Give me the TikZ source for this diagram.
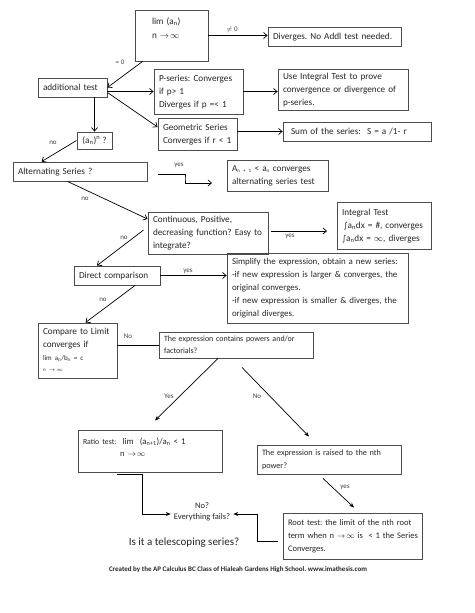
\documentclass[tikz,border=0pt]{standalone}
\usepackage{fontspec}
\setmainfont{Carlito}
\newfontfamily\djv{DejaVu Sans}
\usetikzlibrary{arrows.meta,calc}
\AtBeginDocument{\frenchspacing}
\newcommand\boxlines[1]{\begin{tabular}{@{}l@{}}#1\end{tabular}}
\newcommand\intsign{{\djv\fontsize{8}{13}\selectfont ∫}}
\begin{document}
\begin{tikzpicture}[x=1pt,y=-1pt,
  box/.style={draw=black!70, line width=0.9pt, rectangle, inner xsep=5pt, inner ysep=1pt,
    align=left, font=\fontsize{9.2}{13}\selectfont, text=black!85},
  lbl/.style={font=\fontsize{7}{8}\selectfont, text=black!75, inner sep=0pt},
  arr/.style={line width=0.7pt, -{Straight Barb[length=3.5pt,width=6pt]}},
  arf/.style={line width=0.7pt, -{Stealth[length=5pt,width=4pt]}},
  plain/.style={line width=0.7pt}
]
\useasboundingbox (0,0) rectangle (474,613);
\fill[white] (0,0) rectangle (474,613);

% boxes
\node[box, inner xsep=17pt, minimum width=73, minimum height=51, text width=39] (lim) at (171.5,35.5)
  {\boxlines{lim (a\textsubscript{n})\\[1pt] n $\rightarrow\!\infty$\\ \mbox{}}};
\node[box, minimum width=133, minimum height=19, text width=123] (div) at (334.5,36.5)
  {\boxlines{Diverges. No Addl test needed.}};
\node[box, minimum width=69, minimum height=19, text width=59] (addl) at (72.5,87.5)
  {\boxlines{additional test}};
\node[box, minimum width=89, minimum height=45, text width=79] (pser) at (198.5,91.5)
  {\boxlines{P-series: Converges\\ if p> 1\\ Diverges if p =< 1}};
\node[box, minimum width=130, minimum height=41, text width=120] (useint) at (343,89.5)
  {\boxlines{Use Integral Test to prove\\ convergence or divergence of\\ p-series.}};
\node[box, minimum width=79, minimum height=32, text width=69] (geo) at (197.5,134)
  {\boxlines{Geometric Series\\ Converges if r < 1}};
\node[box, minimum width=148, minimum height=19, text width=138] (sum) at (357,131.5)
  {\boxlines{\hspace*{3pt}Sum of the series:\ \ S = a /1- r}};
\node[box, minimum width=35, minimum height=17, align=center, inner xsep=2pt] (an) at (94.5,140.5)
  {(a\textsubscript{n})\textsuperscript{n} ?};
\node[box, minimum width=134, minimum height=19, text width=124] (alt) at (80,171.5)
  {\boxlines{Alternating Series ?}};
\node[box, minimum width=101, minimum height=31, text width=91] (abox) at (277.5,175.5)
  {\boxlines{A{\fontsize{6}{6}\selectfont\textsubscript{n + 1}} < a{\fontsize{6}{6}\selectfont\textsubscript{n}} converges\\ alternating series test}};
\node[box, minimum width=120, minimum height=42, text width=110] (cont) at (208,233)
  {\boxlines{Continuous, Positive,\\ decreasing function? Easy to\\ integrate?}};
\node[box, minimum width=94, minimum height=47, text width=84] (integ) at (384,225.5)
  {\boxlines{Integral Test\\ \,\intsign a\textsubscript{n}dx = \#, converges\\ \intsign a\textsubscript{n}dx = $\infty$, diverges}};
\node[box, minimum width=86, minimum height=19, text width=76] (direct) at (117,275.5)
  {\boxlines{Direct comparison}};
\node[box, font=\fontsize{8.9}{13}\selectfont, minimum width=181, minimum height=70, text width=171] (simp) at (317.5,288)
  {\boxlines{Simplify the expression, obtain a new series:\\ -if new expression is larger \& converges, the\\ original converges.\\ -if new expression is smaller \& diverges, the\\ original diverges.}};
\node[box, minimum width=79, minimum height=55, text width=69] (comp) at (77.5,350.5)
  {\boxlines{Compare to Limit\\ converges if\\ {\fontsize{7}{9}\selectfont lim a\textsubscript{n}/b\textsubscript{n} = c}\\[-2pt] {\fontsize{5}{7}\selectfont n $\rightarrow\!\infty$}}};
\node[box, font=\fontsize{8}{11.5}\selectfont, minimum width=154, minimum height=26, text width=144] (expr) at (236,345)
  {\boxlines{The expression contains powers and/or\\ factorials?}};
\node[box, minimum width=144, minimum height=42, text width=134] (ratio) at (150,451)
  {\boxlines{{\fontsize{7.8}{13}\selectfont Ratio test:}\ \ {\fontsize{8.8}{13}\selectfont lim\ \ (a\textsubscript{n+1})/a\textsubscript{n} < 1}\\[-1pt] \hspace*{37pt}{\fontsize{8.5}{13}\selectfont n $\rightarrow\!\infty$}\\[-6pt] \mbox{}}};
\node[box, font=\fontsize{8.2}{13}\selectfont, minimum width=144, minimum height=29, text width=134] (raised) at (329,459.5)
  {\boxlines{The expression is raised to the nth\\ power?}};
\node[box, font=\fontsize{8.5}{13}\selectfont, minimum width=139, minimum height=46, text width=129] (root) at (352.5,536)
  {\boxlines{Root test: the limit of the nth root\\ term when n $\rightarrow\!\infty$ is\ \ < 1 the Series\\ Converges.}};

% free text
\node[font=\fontsize{8.5}{11}\selectfont, align=center, text=black!85, inner sep=3pt] (nofail) at (202,511.5)
  {No?\\ Everything fails?};
\node[font=\fontsize{11}{13}\selectfont, text=black!85] (tele) at (184,543) {Is it a telescoping series?};
\node[font=\bfseries\fontsize{7}{8}\selectfont, text=black!85] (foot) at (238,570)
  {Created by the AP Calculus BC Class of Hialeah Gardens High School. www.imathesis.com};

% connectors
\draw[arr] (lim.east) -- (lim.east -| div.west);
\node[lbl] (l1) at (232,30) {$\neq$ 0};
\draw[arr] ([xshift=8pt]lim.south west) -- (addl.east);
\node[lbl] (l2) at (120,62) {= 0};
\draw[arr] (addl.east |- pser.west) -- (pser.west);
\draw[arr] ([yshift=-5pt]addl.east) -- ([yshift=7pt]geo.west);
\draw[arr] (pser.east) -- (pser.east -| useint.west);
\draw[arr] (sum.west -| geo.east) -- (sum.west);
\draw[arr] (addl.south -| an.north) -- (an.north);
\draw[arr] (an.west) -- ([xshift=29pt]alt.north west);
\node[lbl] (l3) at (53,143) {no};
\coordinate (ys) at (158,174);
\coordinate (ye) at (212,183);
\draw[arr] (ys) -| ($(ys)!0.5!(ye)$) |- (ye);
\node[lbl] (l4) at (179,165) {yes};
\draw[arr] ([xshift=55pt]alt.south west) -- ([yshift=14pt]cont.west);
\node[lbl] (l5) at (85,199) {no};
\coordinate (cy1) at (271,231);
\coordinate (cy2) at (327,231);
\draw[arr] (cy1) -- (cy2);
\node[lbl] (l6) at (290,236) {yes};
\draw[arr] ([xshift=-4pt,yshift=3pt]cont.west) -- ([xshift=-20pt]direct.north);
\node[lbl] (l7) at (124,238) {no};
\draw[arr] (direct.east) -- (direct.east -| simp.west);
\node[lbl] (l8) at (188,271) {yes};
\draw[arr] ([xshift=18pt]direct.south) -- ([xshift=8pt]comp.north);
\node[lbl] (l9) at (103,300) {no};
\draw[plain] (expr.west) -- (expr.west -| comp.east);
\node[lbl] (l10) at (128,336) {No};
\draw[arf] ([xshift=-18pt]expr.south) -- ([xshift=5pt,yshift=9pt]ratio.north);
\node[lbl] (l11) at (169,396) {Yes};
\draw[arf] ([xshift=6pt,yshift=-9pt]expr.south) -- ([xshift=-20pt,yshift=8pt]raised.north);
\node[lbl] (l12) at (257,396) {No};
\draw[arf] ([xshift=-6pt,yshift=-4pt]raised.south) -- ([xshift=1.5pt,yshift=5pt]root.north);
\node[lbl] (l13) at (345,487) {yes};
\draw[arf] ([xshift=-5pt,yshift=-5pt]root.west) -- ++(-20pt,0) |- ([yshift=-2.5pt]nofail.east);
\draw[arf] ([xshift=-33pt,yshift=-2pt]ratio.south) -- ++(25pt,0) |- ([yshift=-2.5pt]nofail.west);
\end{tikzpicture}
\end{document}
